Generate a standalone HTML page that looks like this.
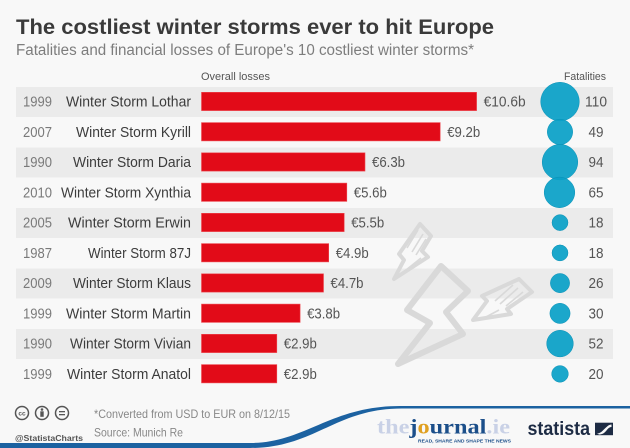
<!DOCTYPE html>
<html>
<head>
<meta charset="utf-8">
<style>
  html, body { margin: 0; padding: 0; background: #f8f8f8; }
  svg { display: block; }
  text { font-family: "Liberation Sans", sans-serif; }
</style>
</head>
<body>
<svg width="630" height="448" viewBox="0 0 630 448" xmlns="http://www.w3.org/2000/svg">
  <rect x="0" y="0" width="630" height="448" fill="#f8f8f8"/>

  <!-- Title -->
  <text x="16" y="34" font-size="21" font-weight="bold" fill="#3a3a3a" textLength="478" lengthAdjust="spacingAndGlyphs">The costliest winter storms ever to hit Europe</text>
  <text x="16" y="55" font-size="15.5" fill="#7d7d7d" textLength="458" lengthAdjust="spacingAndGlyphs">Fatalities and financial losses of Europe's 10 costliest winter storms*</text>

  <text x="201" y="80" font-size="11" fill="#555" textLength="69" lengthAdjust="spacingAndGlyphs">Overall  losses</text>
  <text x="564" y="80" font-size="11" fill="#555" textLength="42" lengthAdjust="spacingAndGlyphs">Fatalities</text>

  <!-- Row bands -->
  <g fill="#ebebeb">
    <rect x="16" y="87" width="597" height="30"/>
    <rect x="16" y="147.5" width="597" height="30"/>
    <rect x="16" y="208" width="597" height="30"/>
    <rect x="16" y="268.5" width="597" height="30"/>
    <rect x="16" y="329" width="597" height="30"/>
  </g>

  <!-- Lightning decoration -->
  <g fill="none" stroke="#d9d9d9" stroke-linejoin="round">
    <polygon points="441,266 468,291 446,312 463,334 398,364 430,323 407,310" stroke-width="6"/>
    <polygon points="420,224 431,236 422,251 428,257 394,279 404,260 399,254" stroke-width="4"/>
    <polygon points="519,279 532,292 507,309 511,314 473,320 487,301 482,296" stroke-width="4"/>
  </g>
  <g stroke="#d9d9d9" stroke-width="1.6">
    <line x1="418" y1="230" x2="407" y2="248"/>
    <line x1="423" y1="234" x2="412" y2="252"/>
    <line x1="426" y1="239" x2="416" y2="255"/>
    <line x1="421" y1="258" x2="406" y2="270"/>
    <line x1="417" y1="263" x2="405" y2="273"/>
    <line x1="513" y1="285" x2="495" y2="301"/>
    <line x1="518" y1="288" x2="500" y2="304"/>
    <line x1="523" y1="292" x2="506" y2="306"/>
    <line x1="499" y1="310" x2="486" y2="317"/>
  </g>

  <!-- Years -->
  <g font-size="14.5" fill="#7a7a7a">
    <text x="23" y="106.6" textLength="29" lengthAdjust="spacingAndGlyphs">1999</text>
    <text x="23" y="136.9" textLength="29" lengthAdjust="spacingAndGlyphs">2007</text>
    <text x="23" y="167.1" textLength="29" lengthAdjust="spacingAndGlyphs">1990</text>
    <text x="23" y="197.4" textLength="29" lengthAdjust="spacingAndGlyphs">2010</text>
    <text x="23" y="227.6" textLength="29" lengthAdjust="spacingAndGlyphs">2005</text>
    <text x="23" y="257.9" textLength="29" lengthAdjust="spacingAndGlyphs">1987</text>
    <text x="23" y="288.1" textLength="29" lengthAdjust="spacingAndGlyphs">2009</text>
    <text x="23" y="318.4" textLength="29" lengthAdjust="spacingAndGlyphs">1999</text>
    <text x="23" y="348.6" textLength="29" lengthAdjust="spacingAndGlyphs">1990</text>
    <text x="23" y="378.9" textLength="29" lengthAdjust="spacingAndGlyphs">1999</text>
  </g>

  <!-- Names -->
  <g font-size="14.5" fill="#3c3c3c">
    <text x="66" y="106.6" textLength="125" lengthAdjust="spacingAndGlyphs">Winter Storm Lothar</text>
    <text x="76" y="136.9" textLength="115" lengthAdjust="spacingAndGlyphs">Winter Storm Kyrill</text>
    <text x="73" y="167.1" textLength="118" lengthAdjust="spacingAndGlyphs">Winter Storm Daria</text>
    <text x="61" y="197.4" textLength="130" lengthAdjust="spacingAndGlyphs">Winter Storm Xynthia</text>
    <text x="68" y="227.6" textLength="123" lengthAdjust="spacingAndGlyphs">Winter Storm Erwin</text>
    <text x="88" y="257.9" textLength="103" lengthAdjust="spacingAndGlyphs">Winter Storm 87J</text>
    <text x="73" y="288.1" textLength="118" lengthAdjust="spacingAndGlyphs">Winter Storm Klaus</text>
    <text x="66" y="318.4" textLength="125" lengthAdjust="spacingAndGlyphs">Winter Storm Martin</text>
    <text x="70" y="348.6" textLength="121" lengthAdjust="spacingAndGlyphs">Winter Storm Vivian</text>
    <text x="67" y="378.9" textLength="124" lengthAdjust="spacingAndGlyphs">Winter Storm Anatol</text>
  </g>

  <!-- Bars -->
  <g fill="#e20b18" stroke="#ee4a52" stroke-width="0.6">
    <rect x="201.5" y="92.3" width="275.1" height="18.3"/>
    <rect x="201.5" y="122.6" width="238.7" height="18.3"/>
    <rect x="201.5" y="152.8" width="163.5" height="18.3"/>
    <rect x="201.5" y="183.1" width="145.3" height="18.3"/>
    <rect x="201.5" y="213.3" width="142.7" height="18.3"/>
    <rect x="201.5" y="243.6" width="127.2" height="18.3"/>
    <rect x="201.5" y="273.8" width="122.0" height="18.3"/>
    <rect x="201.5" y="304.1" width="98.6" height="18.3"/>
    <rect x="201.5" y="334.3" width="75.3" height="18.3"/>
    <rect x="201.5" y="364.6" width="75.3" height="18.3"/>
  </g>

  <!-- Value labels -->
  <g font-size="14.5" fill="#555">
    <text x="483.6" y="106.6" textLength="42" lengthAdjust="spacingAndGlyphs">€10.6b</text>
    <text x="447.2" y="136.9" textLength="33" lengthAdjust="spacingAndGlyphs">€9.2b</text>
    <text x="372" y="167.1" textLength="33" lengthAdjust="spacingAndGlyphs">€6.3b</text>
    <text x="353.8" y="197.4" textLength="33" lengthAdjust="spacingAndGlyphs">€5.6b</text>
    <text x="351.2" y="227.6" textLength="33" lengthAdjust="spacingAndGlyphs">€5.5b</text>
    <text x="335.7" y="257.9" textLength="33" lengthAdjust="spacingAndGlyphs">€4.9b</text>
    <text x="330.5" y="288.1" textLength="33" lengthAdjust="spacingAndGlyphs">€4.7b</text>
    <text x="307.1" y="318.4" textLength="33" lengthAdjust="spacingAndGlyphs">€3.8b</text>
    <text x="283.8" y="348.6" textLength="33" lengthAdjust="spacingAndGlyphs">€2.9b</text>
    <text x="283.8" y="378.9" textLength="33" lengthAdjust="spacingAndGlyphs">€2.9b</text>
  </g>

  <!-- Circles -->
  <g fill="#0aa0c7" fill-opacity="0.93" stroke="#0890b6" stroke-width="0.5">
    <circle cx="560" cy="101.6" r="19.3"/>
    <circle cx="560" cy="131.9" r="12.7"/>
    <circle cx="560" cy="162.1" r="17.8"/>
    <circle cx="559.5" cy="192.4" r="15.3"/>
    <circle cx="560" cy="222.6" r="8"/>
    <circle cx="560" cy="252.9" r="8"/>
    <circle cx="560" cy="283.1" r="9.6"/>
    <circle cx="560" cy="313.4" r="10.1"/>
    <circle cx="560" cy="343.6" r="13.3"/>
    <circle cx="560" cy="373.9" r="8.3"/>
  </g>

  <!-- Fatality numbers -->
  <g font-size="14.5" fill="#555" text-anchor="middle">
    <text x="596" y="106.6" textLength="22" lengthAdjust="spacingAndGlyphs">110</text>
    <text x="596" y="136.9" textLength="15" lengthAdjust="spacingAndGlyphs">49</text>
    <text x="596" y="167.1" textLength="15" lengthAdjust="spacingAndGlyphs">94</text>
    <text x="596" y="197.4" textLength="15" lengthAdjust="spacingAndGlyphs">65</text>
    <text x="596" y="227.6" textLength="15" lengthAdjust="spacingAndGlyphs">18</text>
    <text x="596" y="257.9" textLength="15" lengthAdjust="spacingAndGlyphs">18</text>
    <text x="596" y="288.1" textLength="15" lengthAdjust="spacingAndGlyphs">26</text>
    <text x="596" y="318.4" textLength="15" lengthAdjust="spacingAndGlyphs">30</text>
    <text x="596" y="348.6" textLength="15" lengthAdjust="spacingAndGlyphs">52</text>
    <text x="596" y="378.9" textLength="15" lengthAdjust="spacingAndGlyphs">20</text>
  </g>

  <!-- Footer swoosh -->
  <path d="M0,443 L250,443 C305,443 330,406 400,406 L630,406 L630,408.5 L402,408.5 C335,408.5 315,448 250,448 L0,448 Z" fill="#1c62a1"/>

  <!-- CC icons -->
  <g fill="none" stroke="#555" stroke-width="1.5">
    <circle cx="22" cy="413" r="6.5"/>
    <circle cx="42" cy="413" r="6.5"/>
    <circle cx="62" cy="413" r="6.5"/>
  </g>
  <text x="22" y="415.5" font-size="6.5" font-weight="bold" fill="#555" text-anchor="middle">cc</text>
  <circle cx="42" cy="409.5" r="1.3" fill="#555"/>
  <rect x="40.3" y="411.3" width="3.4" height="5.5" fill="#555"/>
  <rect x="59" y="411" width="6" height="1.3" fill="#555"/>
  <rect x="59" y="414" width="6" height="1.3" fill="#555"/>
  <text x="15" y="441" font-size="8" font-weight="bold" fill="#555" textLength="68" lengthAdjust="spacingAndGlyphs">@StatistaCharts</text>

  <text x="94" y="418" font-size="12" fill="#888" textLength="196" lengthAdjust="spacingAndGlyphs">*Converted from USD to EUR on 8/12/15</text>
  <text x="94" y="436.5" font-size="12" fill="#888" textLength="89" lengthAdjust="spacingAndGlyphs">Source: Munich Re</text>

  <!-- thejournal.ie logo -->
  <text x="377" y="433.5" style="font-family: 'Liberation Serif', serif;" font-size="21" font-weight="bold" textLength="133" lengthAdjust="spacingAndGlyphs"><tspan fill="#c9d1e6">the</tspan><tspan fill="#1c4f8a">j</tspan><tspan fill="#e0a020">o</tspan><tspan fill="#1c4f8a">urnal</tspan><tspan fill="#c9d1e6">.ie</tspan></text>
  <text x="418" y="442.5" font-size="4.6" font-weight="bold" fill="#1c4f8a" textLength="93" lengthAdjust="spacingAndGlyphs">READ, SHARE AND SHAPE THE NEWS</text>

  <!-- statista logo -->
  <text x="527.5" y="435" font-size="19" font-weight="bold" fill="#1d2b44" textLength="62.5" lengthAdjust="spacingAndGlyphs">statista</text>
  <rect x="595" y="422.7" width="18" height="12.5" fill="#1d2b44"/>
  <path d="M597,433.5 C601,433.5 603,430 606,427.5 C608,425.5 609.5,424.5 611.5,424.5 L611.5,427 C609.5,427 608,428.5 606.5,430.5 C604,433.5 602,434.5 599,434.5 Z" fill="#f8f8f8"/>
</svg>
</body>
</html>
